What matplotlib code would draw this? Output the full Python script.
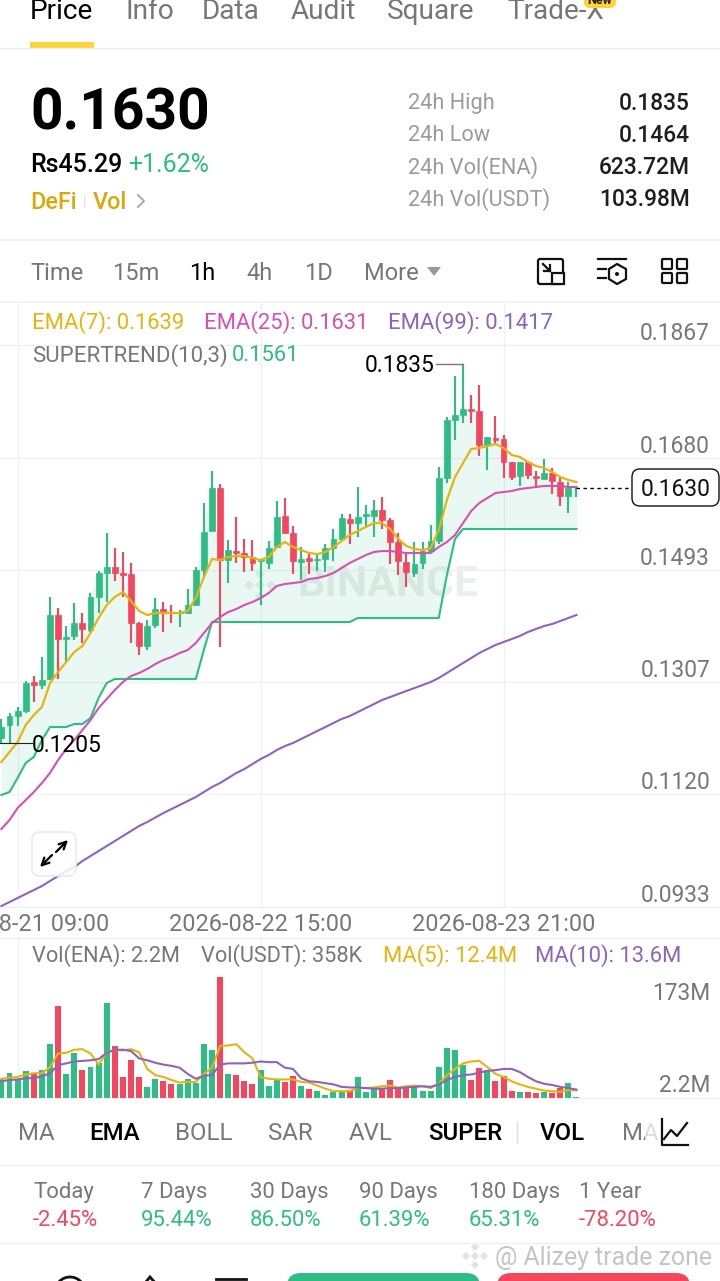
"""ENA/USDT price screen: candles, EMA lines, supertrend and volume."""
import numpy as np
import matplotlib
matplotlib.use('Agg')
import matplotlib.pyplot as plt
from matplotlib.patches import FancyBboxPatch, Rectangle, Polygon, Circle

plt.rcParams['font.family'] = ['Roboto', 'DejaVu Sans']

GREEN = '#2ebd85'
RED = '#f6465d'
GOLD = '#e8b30e'
MAGENTA = '#d94fb0'
PURPLE = '#8e63bd'
GRAY = '#777777'
LIGHT_GRAY = '#9b9b9b'
GRID = '#f0f0f0'

# candles
opens = [.1214, .1235, .1250, .1259, .1307, .1302, .1312, .1418, .1378, .1383, .1405, .1393,
         .1448, .1488, .1498, .1488, .1486, .1405, .1367, .1402, .1428, .1423, .1422, .1422,
         .1435, .1493, .1558, .1629, .1510, .1525, .1521, .1515, .1508, .1505, .1531, .1583,
         .1555, .1506, .1513, .1510, .1511, .1530, .1545, .1578, .1571, .1583, .1583, .1593,
         .1576, .1540, .1506, .1488, .1505, .1525, .1541, .1646, .1742, .1751, .1761, .1757,
         .1701, .1712, .1711, .1673, .1649, .1673, .1649, .1644, .1654, .1639, .1616, .1629]
highs = [.1245, .1255, .1265, .1309, .1317, .1348, .1448, .1430, .1400, .1438, .1422, .1455,
         .1491, .1555, .1530, .1523, .1505, .1407, .1410, .1447, .1440, .1435, .1427, .1461,
         .1498, .1604, .1658, .1636, .1543, .1581, .1545, .1543, .1510, .1541, .1608, .1613,
         .1566, .1531, .1520, .1518, .1536, .1561, .1586, .1586, .1631, .1601, .1609, .1614,
         .1579, .1555, .1521, .1540, .1540, .1568, .1664, .1747, .1815, .1835, .1784, .1801,
         .1714, .1749, .1717, .1673, .1673, .1674, .1658, .1677, .1663, .1646, .1639, .1633]
lows = [.1205, .1205, .1234, .1255, .1274, .1295, .1310, .1312, .1340, .1377, .1372, .1390,
        .1422, .1440, .1475, .1448, .1372, .1352, .1360, .1397, .1390, .1405, .1398, .1420,
        .1435, .1481, .1558, .1365, .1471, .1505, .1490, .1491, .1435, .1495, .1530, .1555,
        .1486, .1476, .1486, .1491, .1490, .1508, .1543, .1536, .1548, .1565, .1548, .1561,
        .1503, .1485, .1465, .1481, .1495, .1521, .1536, .1638, .1709, .1737, .1737, .1682,
        .1659, .1701, .1646, .1643, .1633, .1644, .1629, .1644, .1619, .1599, .1588, .1614]
closes = [.1232, .1250, .1259, .1305, .1302, .1310, .1418, .1378, .1382, .1405, .1395, .1448,
          .1488, .1498, .1488, .1485, .1405, .1367, .1400, .1428, .1423, .1422, .1423, .1435,
          .1493, .1556, .1629, .1510, .1526, .1521, .1515, .1505, .1510, .1530, .1581, .1555,
          .1508, .1511, .1508, .1511, .1530, .1545, .1579, .1571, .1581, .1586, .1593, .1576,
          .1540, .1508, .1490, .1503, .1525, .1541, .1646, .1742, .1751, .1761, .1757, .1701,
          .1714, .1709, .1673, .1648, .1673, .1651, .1646, .1654, .1641, .1616, .1629, .1630]

ema7 = [.11739, .11906, .12072, .12354, .12521, .12654, .13052, .13235, .13401, .13568, .13667, .13883,
        .14133, .14349, .14482, .14565, .14415, .14249, .14183, .14216, .14216, .14216, .14216, .14249,
        .14465, .14814, .15113, .15097, .15147, .15163, .15163, .15130, .15097, .15147, .15313, .15396,
        .15313, .15263, .15213, .15196, .15230, .15313, .15412, .15512, .15579, .15645, .15712, .15712,
        .15612, .15446, .15329, .15280, .15263, .15296, .15595, .16094, .16476, .16709, .16942, .16958,
        .16991, .17025, .16958, .16842, .16809, .16725, .16659, .16626, .16559, .16476, .16426, .16393]
ema25 = [.10626, .10775, .10975, .11108, .11241, .11390, .11557, .11773, .11956, .12105, .12271, .12437,
         .12637, .12787, .12936, .13069, .13169, .13219, .13285, .13368, .13435, .13485, .13551, .13601,
         .13717, .13883, .14050, .14149, .14232, .14282, .14349, .14399, .14465, .14548, .14665, .14698,
         .14714, .14731, .14781, .14798, .14831, .14881, .14964, .15047, .15113, .15180, .15230, .15246,
         .15246, .15230, .15213, .15213, .15213, .15213, .15313, .15396, .15512, .15712, .15911, .16044,
         .16127, .16210, .16227, .16243, .16277, .16293, .16310, .16327, .16327, .16327, .16310, .16310]
ema99 = [.09346, .09413, .09479, .09546, .09612, .09679, .09762, .09845, .09928, .09994, .10094, .10177,
         .10260, .10343, .10426, .10510, .10593, .10676, .10742, .10817, .10892, .10958, .11025, .11091,
         .11158, .11241, .11324, .11390, .11474, .11557, .11623, .11706, .11789, .11856, .11939, .12005,
         .12055, .12122, .12188, .12255, .12321, .12388, .12454, .12504, .12570, .12637, .12703, .12770,
         .12820, .12870, .12920, .12969, .13019, .13069, .13136, .13219, .13302, .13385, .13468, .13551,
         .13618, .13684, .13734, .13784, .13834, .13900, .13950, .14000, .14033, .14083, .14133, .14183]
supertrend = [.11191, .11241, .11474, .11723, .11823, .12105, .12321, .12321, .12321, .12371, .12371, .12471,
              .12803, .13052, .13119, .13119, .13119, .13119, .13119, .13119, .13119, .13119, .13119, .13119,
              .13119, .13601, .14066, .14066, .14066, .14066, .14066, .14066, .14066, .14066, .14066, .14066,
              .14066, .14066, .14066, .14066, .14066, .14066, .14066, .14066, .14133, .14133, .14133, .14133,
              .14133, .14133, .14133, .14133, .14133, .14133, .14133, .14847, .15446, .15612, .15612, .15612,
              .15612, .15612, .15612, .15612, .15612, .15612, .15612, .15612, .15612, .15612, .15612, .15612]

# volume in millions
volumes = [31, 41, 31, 43, 39, 45, 88, 148, 39, 73, 46, 50, 56, 154, 84, 34, 62, 34, 18, 31, 27, 22, 22, 30,
           25, 88, 78, 196, 38, 37, 28, 23, 45, 19, 31, 26, 35, 19, 15, 11, 5, 9, 9, 13, 34, 9, 15, 15,
           29, 16, 19, 20, 12, 11, 50, 81, 77, 54, 29, 49, 45, 27, 35, 12, 10, 10, 8, 10, 8, 16, 25, 2.2]
ma5 = [31, 33, 34, 38, 40, 40, 50, 72, 73, 78, 79, 72, 54, 74, 78, 77, 79, 74, 47, 37, 34, 29, 25, 26,
       26, 39, 49, 84, 85, 87, 74, 64, 34, 31, 30, 30, 30, 26, 25, 20, 15, 11, 11, 11, 16, 16, 17, 19,
       20, 17, 19, 20, 19, 16, 23, 37, 47, 56, 59, 60, 50, 39, 34, 27, 22, 18, 15, 12, 11, 10, 13, 12.4]
ma10 = [27, 29, 30, 32, 32, 35, 40, 53, 56, 59, 60, 61, 63, 73, 78, 78, 76, 64, 61, 57, 54, 52, 49, 39,
        31, 36, 37, 54, 56, 56, 56, 57, 59, 58, 58, 49, 47, 32, 27, 26, 24, 22, 18, 17, 17, 16, 15, 15,
        16, 16, 17, 18, 19, 18, 22, 29, 34, 37, 38, 41, 44, 45, 47, 47, 42, 34, 27, 23, 21, 18, 16, 13.6]

price_ticks = [0.1867, 0.1680, 0.1493, 0.1307, 0.1120, 0.0933]
date_ticks = [2, 32, 62]
date_labels = ['2026-08-21 09:00', '2026-08-22 15:00', '2026-08-23 21:00']
last_price = 0.1630

tabs = [('Price', 30), ('Info', 125), ('Data', 202), ('Audit', 291), ('Square', 387), ('Trade-X', 507)]
stats = [('24h High', '0.1835'), ('24h Low', '0.1464'), ('24h Vol(ENA)', '623.72M'), ('24h Vol(USDT)', '103.98M')]
intervals = [('Time', 30, GRAY), ('15m', 112, GRAY), ('1h', 189, 'black'), ('4h', 246, GRAY), ('1D', 304, GRAY), ('More', 364, GRAY)]
indicators = [('MA', 18, GRAY), ('EMA', 89, 'black'), ('BOLL', 175, GRAY), ('SAR', 268, GRAY), ('AVL', 349, GRAY),
              ('SUPER', 428, 'black'), ('VOL', 540, 'black'), ('MA', 622, GRAY)]
periods = [('Today', '-2.45%', 33, RED), ('7 Days', '95.44%', 141, GREEN), ('30 Days', '86.50%', 250, GREEN),
           ('90 Days', '61.39%', 359, GREEN), ('180 Days', '65.31%', 469, GREEN), ('1 Year', '-78.20%', 579, RED)]

fig = plt.figure(figsize=(7.2, 12.81), dpi=100, facecolor='white')


def pixel_axes(zorder):
    # whole figure in screen pixels, for the app chrome
    a = fig.add_axes([0, 0, 1, 1], zorder=zorder)
    a.set_xlim(0, 720)
    a.set_ylim(1281, 0)
    a.axis('off')
    return a


ui = pixel_axes(0)
over = pixel_axes(5)


def put(x, y, s, color='black', size=16, weight='normal', ha='left', a=ui):
    # va=center sits a little high for digits, hence the nudge
    a.text(x, y + 1.5, s, color=color, fontsize=size, fontweight=weight, ha=ha, va='center')


def hline(y, color='#eeeeee', lw=1.0):
    ui.plot([0, 720], [y, y], color=color, lw=lw)


def diamonds(a, x, y, scale, color):
    # exchange logo, five small diamonds
    for dx, dy in [(0, -1), (-1, 0), (1, 0), (0, 1), (0, 0)]:
        a.add_patch(Polygon([(x + dx * scale - scale * .45, y + dy * scale),
                             (x + dx * scale, y + dy * scale - scale * .45),
                             (x + dx * scale + scale * .45, y + dy * scale),
                             (x + dx * scale, y + dy * scale + scale * .45)], fc=color, ec='none'))


# top tabs
for i, (name, x) in enumerate(tabs):
    put(x, 10, name, 'black' if i == 0 else GRAY, 20.2)
ui.add_patch(Rectangle((30, 42), 64, 6, fc='#fcd535', ec='none'))
ui.add_patch(FancyBboxPatch((584, -10), 32, 18, boxstyle='round,pad=0,rounding_size=6', fc='#fcd535', ec='none', zorder=3))
put(600, -1, 'New', '#222222', 9, 'bold', ha='center')
hline(48)

# price block
put(30, 112, '0.1630', 'black', 41, 'bold')
put(30, 164, 'Rs45.29', 'black', 18, 'medium')
put(128, 164, '+1.62%', GREEN, 18)
put(30, 201, 'DeFi', '#d9a90a', 16.8, 'medium')
put(83, 200, '|', '#dddddd', 10)
put(93, 201, 'Vol', '#d9a90a', 16.8, 'medium')
ui.plot([138, 144, 138], [195, 201, 207], color='#aaaaaa', lw=1.4)
for (name, value), y in zip(stats, [102, 134, 166, 198]):
    put(408, y, name, LIGHT_GRAY, 15.7)
    put(690, y, value, '#1e1e1e', 16.4, 'medium', ha='right')
hline(240, '#f2f2f2', 1.5)

# interval row and its icons
for name, x, color in intervals:
    put(x, 272, name, color, 17)
ui.add_patch(Polygon([(427, 267), (441, 267), (434, 276)], fc='#999999', ec='none'))
hline(302, '#f2f2f2', 1.5)
ui.add_patch(FancyBboxPatch((538, 259), 25, 25, boxstyle='round,pad=0,rounding_size=2', fc='none', ec='#111111', lw=1.6))
ui.add_patch(Rectangle((552, 273), 12, 11, fc='white', ec='#111111', lw=1.6))
ui.plot([543, 550], [264, 271], color='#111111', lw=1.6)
ui.plot([544, 550, 550], [271, 271, 265], color='#111111', lw=1.6)
ui.plot([598, 626], [259, 259], color='#111111', lw=1.6)
ui.plot([598, 606], [269, 269], color='#111111', lw=1.6)
ui.plot([598, 606], [278, 278], color='#111111', lw=1.6)
ui.add_patch(Polygon([(617, 264), (626, 269), (626, 279), (617, 284), (609, 279), (609, 269)], fc='none', ec='#111111', lw=1.6))
ui.add_patch(Circle((617, 274), 2, fc='#111111', ec='none'))
for x in (662, 677):
    for y in (259, 273):
        ui.add_patch(FancyBboxPatch((x, y), 10, 10, boxstyle='round,pad=0,rounding_size=1', fc='none', ec='#111111', lw=1.6))

# watermark sits under the chart
ui.text(297, 585, 'BINANCE', color='#eaeeec', fontsize=30.8, fontweight='bold', ha='left', va='center')
diamonds(ui, 260, 585, 11, '#eaeeec')

# price panel
idx = np.arange(len(closes))
ax = fig.add_axes([0, 1 - 907 / 1281, 1, 604 / 1281], zorder=2, facecolor='none')
ax.set_xlim(-0.173, 88.72)
ax.set_ylim(0.0933, 0.19368)
ax.set_axisbelow(True)
ax.grid(True, color=GRID, lw=1)
ax.fill_between(idx, closes, supertrend, color=GREEN, alpha=0.1, lw=0, zorder=1)

colors = [GREEN if c >= o else RED for o, c in zip(opens, closes)]
ax.vlines(idx, lows, highs, colors=colors, lw=1.5, zorder=2)
ax.bar(idx, np.abs(np.array(closes) - np.array(opens)), bottom=np.minimum(opens, closes), width=0.72,
       color=colors, edgecolor=colors, lw=0.5, zorder=3)

ax.plot(idx, supertrend, color=GREEN, lw=1.5, zorder=4)
ax.plot(idx, ema99, color=PURPLE, lw=1.5, zorder=4)
ax.plot(idx, ema25, color=MAGENTA, lw=1.5, zorder=4)
ax.plot(idx, ema7, color=GOLD, lw=1.6, zorder=5)

# high, low and last price markers
ax.plot([53.6, 57], [0.1835, 0.1835], color=GRAY, lw=1, zorder=6)
ax.plot([-0.173, 3.8], [0.1205, 0.1205], color='#222222', lw=0.8, zorder=6)
ax.plot([71, 77.8], [last_price, last_price], color='black', lw=1, ls=(0, (2.5, 2.5)), zorder=6)

ax.set_yticks(price_ticks)
ax.set_yticklabels(['%.4f' % p for p in price_ticks], color=GRAY, fontsize=16.4, ha='right', va='bottom')
ax.yaxis.tick_right()
ax.tick_params(axis='y', length=0, pad=-7.2)
ax.set_xticks(date_ticks)
ax.set_xticklabels(date_labels, color=GRAY, fontsize=16.9)
ax.tick_params(axis='x', length=0, pad=4.5)
for side in ax.spines:
    ax.spines[side].set_visible(False)
ax.spines['bottom'].set_visible(True)
ax.spines['bottom'].set_color('#eeeeee')

put(32, 321, 'EMA(7): 0.1639', GOLD, 15.8, a=over)
put(204, 321, 'EMA(25): 0.1631', MAGENTA, 15.8, a=over)
put(388, 321, 'EMA(99): 0.1417', PURPLE, 15.8, a=over)
put(32, 354, 'SUPERTREND(10,3)', GRAY, 16, a=over)
put(232, 354, '0.1561', GREEN, 15.8, a=over)
put(365, 364, '0.1835', 'black', 16.4, a=over)
put(32, 744, '0.1205', 'black', 16.4, a=over)

over.add_patch(FancyBboxPatch((632, 469), 87, 37, boxstyle='round,pad=0,rounding_size=8', fc='white', ec='#111111', lw=1))
put(675.5, 487.5, '0.1630', '#111111', 16.4, ha='center', a=over)

# expand button
over.add_patch(FancyBboxPatch((32, 832), 44, 44, boxstyle='round,pad=0,rounding_size=8', fc='white', ec='#e8e8e8', lw=1.2, alpha=0.85))
arrow = dict(arrowstyle='->', color='black', lw=1.6, mutation_scale=13, shrinkA=0, shrinkB=0)
over.annotate('', xy=(68, 840), xytext=(56, 852), arrowprops=arrow)
over.annotate('', xy=(40, 867), xytext=(52, 855), arrowprops=arrow)

# volume panel
hline(938)
vol = fig.add_axes([0, 1 - 1098 / 1281, 1, 160 / 1281], zorder=2, facecolor='none')
vol.set_xlim(-0.173, 88.72)
vol.set_ylim(0, 258.7)
vol.set_axisbelow(True)
vol.grid(True, axis='x', color=GRID, lw=1)
vol.bar(idx, volumes, width=0.74, color=colors, zorder=2)
vol.plot(idx, ma5, color=GOLD, lw=1.5, zorder=3)
vol.plot(idx, ma10, color=PURPLE, lw=1.5, zorder=3)
vol.set_xticks(date_ticks)
vol.set_xticklabels([])
vol.set_yticks([173, 2.2])
vol.set_yticklabels(['173M', '2.2M'], color=GRAY, fontsize=16.4, ha='right')
vol.yaxis.tick_right()
vol.tick_params(axis='both', length=0)
vol.tick_params(axis='y', pad=-7.2)
vol.get_yticklabels()[1].set_va('bottom')
for side in vol.spines:
    vol.spines[side].set_visible(False)
vol.spines['bottom'].set_visible(True)
vol.spines['bottom'].set_color('#eeeeee')

put(32, 954, 'Vol(ENA): 2.2M', GRAY, 15.7, a=over)
put(201, 954, 'Vol(USDT): 358K', GRAY, 15.7, a=over)
put(383, 954, 'MA(5): 12.4M', GOLD, 15.8, a=over)
put(535, 954, 'MA(10): 13.6M', PURPLE, 15.8, a=over)

# indicator tabs
for name, x, color in indicators:
    put(x, 1132, name, color, 17.3, 'medium' if color == 'black' else 'normal')
ui.plot([517, 517], [1122, 1143], color='#dddddd', lw=1)
ui.add_patch(Rectangle((645, 1115), 75, 36, fc='white', ec='none', alpha=0.75, zorder=5))
ui.plot([662, 662, 688], [1119, 1145, 1145], color='#111111', lw=1.6, zorder=6)
ui.plot([664, 671, 677, 687], [1139, 1130, 1136, 1123], color='#111111', lw=1.6, zorder=6)
hline(1165)

# change by period
for name, value, x, color in periods:
    put(x, 1191, name, GRAY, 15.9)
    put(x, 1219, value, color, 15.9)
hline(1243)

# bottom bar, cut off by the screenshot
put(495, 1256, '@ Alizey trade zone', '#c4c4c4', 17.9)
diamonds(ui, 475, 1256, 9, '#e2e2e2')
ui.add_patch(Circle((70, 1292), 15, fc='none', ec='#111111', lw=2))
ui.add_patch(Polygon([(135, 1295), (150, 1277), (166, 1295)], fc='none', ec='#111111', lw=2))
ui.plot([216, 246], [1279, 1279], color='#111111', lw=2)
ui.add_patch(FancyBboxPatch((287, 1273), 193, 40, boxstyle='round,pad=0,rounding_size=14', fc=GREEN, ec='none'))
ui.add_patch(FancyBboxPatch((497, 1273), 193, 40, boxstyle='round,pad=0,rounding_size=14', fc=RED, ec='none'))

fig.savefig('out.png', dpi=100)
